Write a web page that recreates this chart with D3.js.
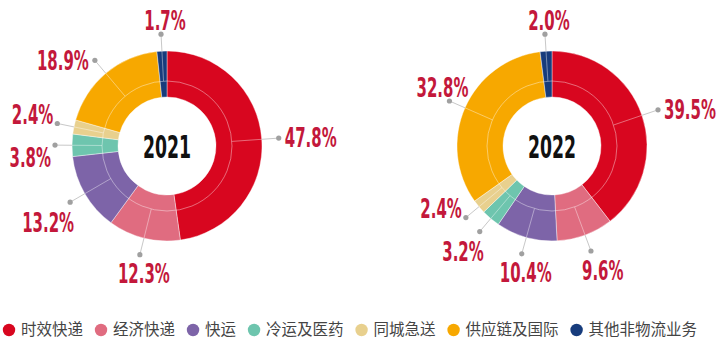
<!DOCTYPE html>
<html>
<head>
<meta charset="utf-8">
<script src="https://cdn.jsdelivr.net/npm/d3@7"></script>
<style>
  body { margin: 0; background: #fff; }
  svg { display: block; }
  .pct { font-family: "Liberation Sans Narrow", "DejaVu Sans Condensed", sans-serif; font-weight: bold; font-stretch: condensed; }
  .legend text { font-family: "Noto Sans CJK SC", sans-serif; }
</style>
</head>
<body>
<svg id="chart" width="721" height="341"></svg>
<script>
// categories in drawing order (clockwise from 12 o'clock)
const categories = ["时效快递", "经济快递", "快运", "冷运及医药", "同城急送", "供应链及国际", "其他非物流业务"];
const colors = ["#d8061f", "#e06c80", "#7d64a8", "#6ec5ae", "#e8d08e", "#f7a800", "#173c7c"];

const values2021 = [47.8, 12.3, 13.2, 3.8, 2.4, 18.9, 1.7];
const values2022 = [39.5, 9.6, 10.4, 3.2, 2.4, 32.8, 2.0];

// where each label sits relative to its leader dot
const place2021 = ["r", "b", "bl", "lb", "lt", "l", "t"];
const place2022 = ["r", "br", "b", "bl", "lt", "tl", "t"];

const svg = d3.select("#chart");
const rInner = 49, rMid = 65, rOuter = 95, rDot = 112;
const labelColor = "#c3183b";

const pie = d3.pie().sort(null).value(d => d);
const arc = d3.arc().innerRadius(rInner).outerRadius(rOuter);

function polar(a, r) {
    return [Math.sin(a) * r, -Math.cos(a) * r];
}

function drawDonut(cx, cy, values, places, year) {
    const g = svg.append("g").attr("transform", `translate(${cx},${cy})`);
    const arcs = pie(values);

    g.selectAll("path.slice")
        .data(arcs)
        .join("path")
        .attr("class", "slice")
        .attr("d", arc)
        .attr("fill", (d, i) => colors[i])
        .attr("stroke", "#fff")
        .attr("stroke-width", 0.4);

    // faint inner ring + spokes (decoration seen in the original)
    g.append("circle")
        .attr("r", rMid)
        .attr("fill", "none")
        .attr("stroke", "#fff")
        .attr("stroke-opacity", 0.4)
        .attr("stroke-width", 1);

    arcs.forEach((d, i) => {
        const a = (d.startAngle + d.endAngle) / 2;
        const p0 = polar(a, rMid), p1 = polar(a, rOuter), p2 = polar(a, rDot);
        g.append("line")
            .attr("x1", p0[0]).attr("y1", p0[1])
            .attr("x2", p1[0]).attr("y2", p1[1])
            .attr("stroke", "#fff").attr("stroke-opacity", 0.4);
        g.append("line")
            .attr("x1", p1[0]).attr("y1", p1[1])
            .attr("x2", p2[0]).attr("y2", p2[1])
            .attr("stroke", "#c8c8c8").attr("stroke-width", 1);
        g.append("circle")
            .attr("cx", p2[0]).attr("cy", p2[1])
            .attr("r", 2.6).attr("fill", "#a0a0a0");

        // label
        let x = p2[0], y = p2[1], anchor = "middle";
        const pl = places[i];
        if (pl === "r") { x += 6; anchor = "start"; }
        else if (pl === "l") { x -= 6; anchor = "end"; }
        else if (pl === "lt") { x -= 4; y -= 9; anchor = "end"; }
        else if (pl === "lb") { x -= 4; y += 13; anchor = "end"; }
        else if (pl === "t") { x += 4; y -= 14; }
        else if (pl === "tl") { x += 19; y -= 13; anchor = "end"; }
        else if (pl === "b") { x += 4; y += 19; }
        else if (pl === "bl") { x += 4; y += 20; anchor = "end"; }
        else if (pl === "br") { x -= 9; y += 20; anchor = "start"; }

        g.append("g")
            .attr("transform", `translate(${x},${y}) scale(0.64,1)`)
            .append("text")
            .attr("class", "pct")
            .attr("text-anchor", anchor)
            .attr("dy", "0.36em")
            .attr("font-size", 26)
            .attr("fill", labelColor)
            .text(d3.format(".1f")(values[i]) + "%");
    });

    g.append("g")
        .attr("transform", "scale(0.6,1)")
        .append("text")
        .attr("class", "pct")
        .attr("text-anchor", "middle")
        .attr("dy", "0.36em")
        .attr("font-size", 32)
        .attr("fill", "#111")
        .text(year);
}

drawDonut(167, 146, values2021, place2021, "2021");
drawDonut(552, 146, values2022, place2022, "2022");

// legend
const legend = svg.append("g").attr("class", "legend").attr("transform", "translate(0,330)");
let lx = 9;
categories.forEach((c, i) => {
    legend.append("circle")
        .attr("cx", lx).attr("cy", 0).attr("r", 6.2)
        .attr("fill", colors[i]);
    const t = legend.append("text")
        .attr("x", lx + 12)
        .attr("dy", "0.35em")
        .attr("font-size", 15.5)
        .attr("fill", "#444")
        .text(c);
    lx += 12 + t.node().getComputedTextLength() + 18;
});
</script>
</body>
</html>
